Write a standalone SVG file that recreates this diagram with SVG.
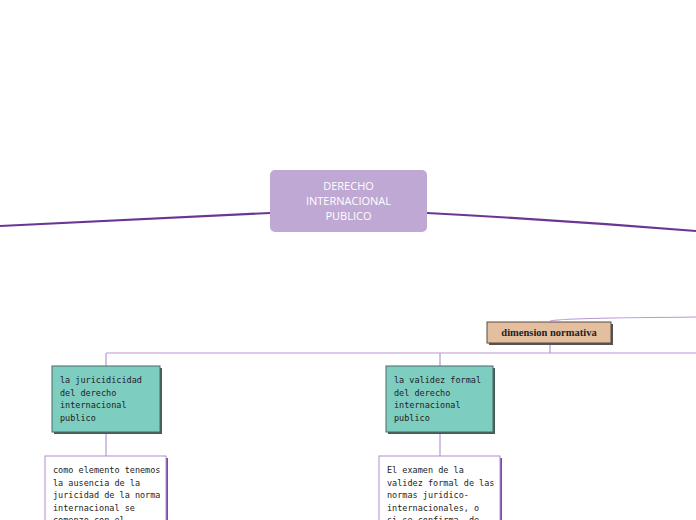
<svg xmlns="http://www.w3.org/2000/svg" width="696" height="520" viewBox="0 0 696 520">
<style>
.t{font-family:"DejaVu Sans Mono",monospace;font-size:8.5px;fill:#222}
.teal{fill:#7ecdc1;stroke:#4a6a66;stroke-width:1}
.sh{fill:#4a5a58}
.note{fill:#fff;stroke:#b08ed0;stroke-width:1}
.c{fill:none;stroke:#b896d8;stroke-width:1.2}
</style>
<rect width="696" height="520" fill="#fff"/>
<g id="connectors">
<path d="M0,226 Q120,220 270,213" fill="none" stroke="#6b3596" stroke-width="2.2"/>
<path d="M427,213 Q560,220 696,231" fill="none" stroke="#6b3596" stroke-width="2.2"/>
<path class="c" d="M550,321 Q560,318 696,317"/>
<path class="c" d="M106,353 H696 M550,343 V353 M106,353 V366 M440,353 V366 M106,432 V456 M440,432 V456"/>
</g>
<g id="root">
<rect x="270" y="170" width="157" height="62" rx="5" fill="#c0a8d4"/>
<text x="348.5" y="190" text-anchor="middle" font-family="Open Sans,sans-serif" font-size="11" fill="#fff">DERECHO</text>
<text x="348.5" y="205" text-anchor="middle" font-family="Open Sans,sans-serif" font-size="11" fill="#fff">INTERNACIONAL</text>
<text x="348.5" y="220" text-anchor="middle" font-family="Open Sans,sans-serif" font-size="11" fill="#fff">PUBLICO</text>
</g>
<g id="dimension">
<rect x="489" y="324" width="124" height="21" fill="#555"/>
<rect x="487" y="322" width="124" height="21" fill="#e3bfa0" stroke="#5a4a40"/>
<text x="549" y="336" text-anchor="middle" font-family="Liberation Serif,serif" font-weight="bold" font-size="10.5" fill="#222">dimension normativa</text>
</g>
<g id="juridicidad">
<rect x="54" y="368" width="108" height="66" class="sh"/>
<rect x="52" y="366" width="108" height="66" class="teal"/>
<text class="t" x="60" y="383">la juricidicidad</text>
<text class="t" x="60" y="396">del derecho</text>
<text class="t" x="60" y="408">internacional</text>
<text class="t" x="60" y="421">publico</text>
</g>
<g id="validez">
<rect x="388" y="368" width="107" height="66" class="sh"/>
<rect x="386" y="366" width="107" height="66" class="teal"/>
<text class="t" x="394" y="383">la validez formal</text>
<text class="t" x="394" y="396">del derecho</text>
<text class="t" x="394" y="408">internacional</text>
<text class="t" x="394" y="421">publico</text>
</g>
<g id="nota1">
<rect x="47" y="458" width="121" height="70" fill="#7a4aa8"/>
<rect x="45" y="456" width="121" height="70" class="note"/>
<text class="t" x="53" y="473">como elemento tenemos</text>
<text class="t" x="53" y="486">la ausencia de la</text>
<text class="t" x="53" y="498">juricidad de la norma</text>
<text class="t" x="53" y="511">internacional se</text>
<text class="t" x="53" y="523">comenzo con el</text>
</g>
<g id="nota2">
<rect x="381" y="458" width="121" height="70" fill="#7a4aa8"/>
<rect x="379" y="456" width="121" height="70" class="note"/>
<text class="t" x="387" y="473">El examen de la</text>
<text class="t" x="387" y="486">validez formal de las</text>
<text class="t" x="387" y="498">normas juridico-</text>
<text class="t" x="387" y="511">internacionales, o</text>
<text class="t" x="387" y="523">si se confirma, de</text>
</g>
</svg>
